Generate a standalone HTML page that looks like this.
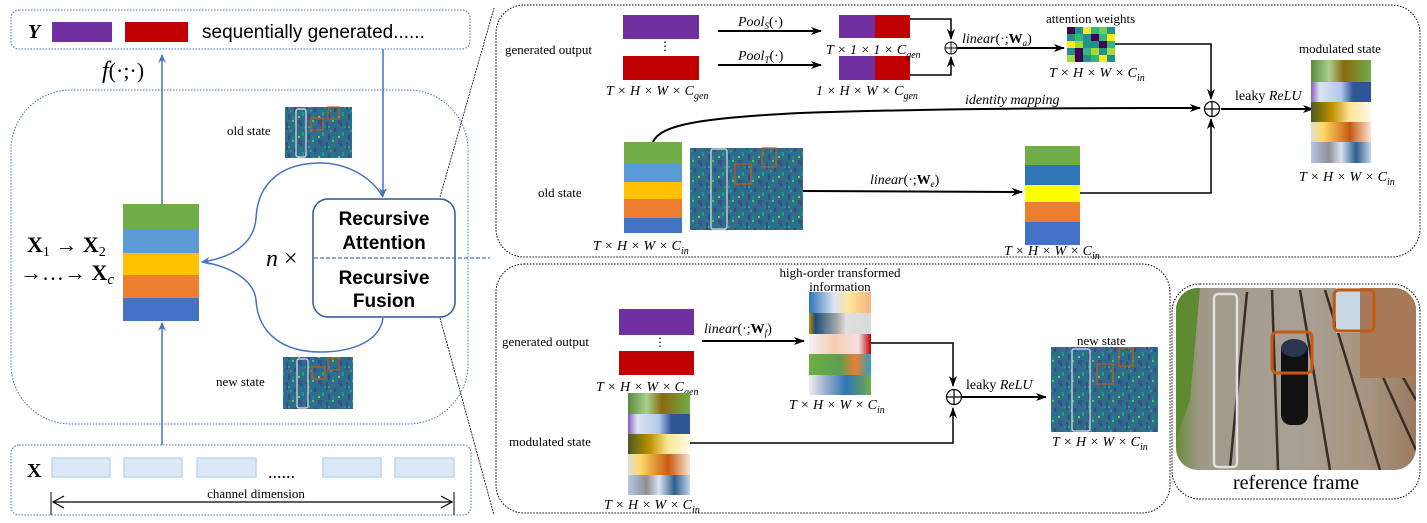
<!DOCTYPE html>
<html><head><meta charset="utf-8"><style>
html,body{margin:0;padding:0;background:#fff;}
svg{display:block;}
.s{font-family:"Liberation Serif",serif;}
.i{font-family:"Liberation Serif",serif;font-style:italic;}
</style></head><body>
<svg width="1427" height="523" viewBox="0 0 1427 523" xmlns="http://www.w3.org/2000/svg">
<defs>
<pattern id="hm" width="20" height="20" patternUnits="userSpaceOnUse">
<rect width="20" height="20" fill="#2d6f8a"/>
<rect x="0" y="0" width="2" height="6" fill="#3b4f8a"/><rect x="6" y="2" width="2" height="8" fill="#3e4a89"/>
<rect x="12" y="0" width="2" height="2" fill="#4fc06a"/><rect x="16" y="6" width="2" height="8" fill="#31688e"/>
<rect x="2" y="12" width="2" height="4" fill="#1f9e89"/><rect x="8" y="14" width="2" height="6" fill="#3e4a89"/>
<rect x="14" y="8" width="2" height="4" fill="#414487"/><rect x="18" y="16" width="2" height="2" fill="#7ad151"/>
<rect x="0" y="16" width="2" height="4" fill="#31688e"/><rect x="12" y="16" width="2" height="4" fill="#26828e"/>
<rect x="8" y="6" width="2" height="2" fill="#22a884"/><rect x="18" y="0" width="2" height="4" fill="#3e4a89"/>
<rect x="4" y="6" width="2" height="2" fill="#21918c"/><rect x="10" y="10" width="2" height="2" fill="#2a9a86"/>
</pattern>
<marker id="ab" markerWidth="10" markerHeight="10" refX="8" refY="5" orient="auto" markerUnits="userSpaceOnUse"><path d="M0,1 L9,5 L0,9 L3,5Z" fill="#4472c4"/></marker>
<marker id="ak" markerWidth="12" markerHeight="10" refX="10" refY="5" orient="auto" markerUnits="userSpaceOnUse"><path d="M0,1 L11,5 L0,9 L3,5Z" fill="#000"/></marker>
<linearGradient id="g1" x1="0" x2="1"><stop offset="0" stop-color="#5a8a3c"/><stop offset=".3" stop-color="#a9d08e"/><stop offset=".55" stop-color="#8a6a10"/><stop offset="1" stop-color="#70ad47"/></linearGradient>
<linearGradient id="g2" x1="0" x2="1"><stop offset="0" stop-color="#8e5ac0"/><stop offset=".15" stop-color="#dbe5f5"/><stop offset=".5" stop-color="#b4c7e7"/><stop offset=".7" stop-color="#2f5597"/><stop offset="1" stop-color="#2f5597"/></linearGradient>
<linearGradient id="g3" x1="0" x2="1"><stop offset="0" stop-color="#4c5a20"/><stop offset=".35" stop-color="#c09000"/><stop offset=".65" stop-color="#ffe699"/><stop offset="1" stop-color="#fff8e8"/></linearGradient>
<linearGradient id="g4" x1="0" x2="1"><stop offset="0" stop-color="#e0e0d0"/><stop offset=".2" stop-color="#ffd966"/><stop offset=".65" stop-color="#c55a11"/><stop offset="1" stop-color="#fbe5d6"/></linearGradient>
<linearGradient id="g5" x1="0" x2="1"><stop offset="0" stop-color="#b4c7e7"/><stop offset=".3" stop-color="#909090"/><stop offset=".5" stop-color="#dae3f3"/><stop offset=".75" stop-color="#2f5f8f"/><stop offset="1" stop-color="#c5d5ea"/></linearGradient>
<linearGradient id="h1" x1="0" x2="1"><stop offset="0" stop-color="#2e75b6"/><stop offset=".4" stop-color="#dae3f3"/><stop offset=".65" stop-color="#ffe699"/><stop offset="1" stop-color="#f4b183"/></linearGradient>
<linearGradient id="h2" x1="0" x2="1"><stop offset="0" stop-color="#bf9000"/><stop offset=".1" stop-color="#1f4e79"/><stop offset=".45" stop-color="#a6a6a6"/><stop offset=".6" stop-color="#e0e0e0"/><stop offset="1" stop-color="#d9d9d9"/></linearGradient>
<linearGradient id="h3" x1="0" x2="1"><stop offset="0" stop-color="#f2f2f2"/><stop offset=".4" stop-color="#f8cbad"/><stop offset=".8" stop-color="#f2e0e0"/><stop offset="1" stop-color="#c00000"/></linearGradient>
<linearGradient id="h4" x1="0" x2="1"><stop offset="0" stop-color="#70ad47"/><stop offset=".5" stop-color="#5aa050"/><stop offset=".75" stop-color="#ed7d31"/><stop offset="1" stop-color="#2aa0c0"/></linearGradient>
<linearGradient id="h5" x1="0" x2="1"><stop offset="0" stop-color="#f0f0f0"/><stop offset=".3" stop-color="#8fa8c8"/><stop offset=".6" stop-color="#2e75b6"/><stop offset="1" stop-color="#70ad47"/></linearGradient>
<linearGradient id="wood" x1="0" x2="1"><stop offset="0" stop-color="#6b8a3a"/><stop offset=".1" stop-color="#a09888"/><stop offset=".5" stop-color="#a8a096"/><stop offset=".8" stop-color="#a89480"/><stop offset="1" stop-color="#9a7a60"/></linearGradient>
<clipPath id="pc"><rect x="1176" y="288" width="240" height="182" rx="22"/></clipPath>
</defs>

<!-- LEFT -->
<rect x="11" y="10" width="459" height="39" rx="8" fill="none" stroke="#4472c4" stroke-width="1" stroke-dasharray="1.5,1.5"/>
<text x="28" y="38" class="i" font-weight="bold" font-size="20">Y</text>
<rect x="52" y="22" width="60" height="20" fill="#7030a0"/>
<rect x="125" y="22" width="63" height="20" fill="#c00000"/>
<text x="202" y="38" font-family="Liberation Sans,sans-serif" font-size="19">sequentially generated......</text>
<text x="102" y="78" class="i" font-size="24">f<tspan font-style="normal" font-size="22">(·;·)</tspan></text>

<rect x="11" y="90" width="457" height="334" rx="60" fill="none" stroke="#4472c4" stroke-width="1" stroke-dasharray="1.5,1.5"/>
<line x1="162" y1="204" x2="162" y2="55" stroke="#4472c4" stroke-width="1.5" marker-end="url(#ab)"/>
<line x1="383" y1="49" x2="383" y2="196" stroke="#4472c4" stroke-width="1.5" marker-end="url(#ab)"/>
<line x1="162" y1="445" x2="162" y2="323" stroke="#4472c4" stroke-width="1.5" marker-end="url(#ab)"/>
<rect x="123" y="204" width="76" height="25" fill="#70ad47"/>
<rect x="123" y="229" width="76" height="24" fill="#5b9bd5"/>
<rect x="123" y="253" width="76" height="22" fill="#ffc000"/>
<rect x="123" y="275" width="76" height="23" fill="#ed7d31"/>
<rect x="123" y="298" width="76" height="23" fill="#4472c4"/>
<text x="27" y="252" class="s" font-weight="bold" font-size="22">X<tspan font-size="14" dy="4" font-weight="normal">1</tspan><tspan dy="-4" font-weight="normal"> → </tspan>X<tspan font-size="14" dy="4" font-weight="normal">2</tspan></text>
<text x="20" y="280" class="s" font-size="22">→…→ <tspan font-weight="bold">X</tspan><tspan class="i" font-size="15" dy="4">c</tspan></text>
<path d="M383,197 C370,175 345,163 320,163 C285,163 258,180 256,218 C254,245 230,258 202,262" fill="none" stroke="#4472c4" stroke-width="1.5" marker-end="url(#ab)"/>
<path d="M383,318 C380,340 355,352 320,352 C285,352 258,335 256,300 C254,280 230,266 202,262" fill="none" stroke="#4472c4" stroke-width="1.5"/>
<text x="266" y="266" class="i" font-size="24">n <tspan font-style="normal">×</tspan></text>
<rect x="313" y="199" width="142" height="118" rx="15" fill="#fff" stroke="#2f5597" stroke-width="1.5"/>
<line x1="314" y1="258" x2="490" y2="258" stroke="#4472c4" stroke-width="1.2" stroke-dasharray="4,2"/>
<text x="384" y="225" text-anchor="middle" font-family="Liberation Sans,sans-serif" font-weight="bold" font-size="19">Recursive</text>
<text x="384" y="249" text-anchor="middle" font-family="Liberation Sans,sans-serif" font-weight="bold" font-size="19">Attention</text>
<text x="384" y="284" text-anchor="middle" font-family="Liberation Sans,sans-serif" font-weight="bold" font-size="19">Recursive</text>
<text x="384" y="307" text-anchor="middle" font-family="Liberation Sans,sans-serif" font-weight="bold" font-size="19">Fusion</text>
<text x="227" y="135" class="s" font-size="13">old state</text>
<rect x="285" y="107" width="67" height="51" fill="url(#hm)"/>
<rect x="296" y="109" width="10" height="48" fill="none" stroke="#ddd" stroke-width="1.2" rx="2"/>
<rect x="311" y="118" width="12" height="12" fill="none" stroke="#c55a11" stroke-width="1.2"/>
<rect x="328" y="107" width="11" height="12" fill="none" stroke="#c55a11" stroke-width="1.2"/>
<text x="216" y="386" class="s" font-size="13">new state</text>
<rect x="283" y="357" width="70" height="52" fill="url(#hm)"/>
<rect x="297" y="359" width="11" height="49" fill="none" stroke="#ddd" stroke-width="1.2" rx="2"/>
<rect x="312" y="367" width="13" height="12" fill="none" stroke="#c55a11" stroke-width="1.2"/>
<rect x="328" y="358" width="11" height="12" fill="none" stroke="#c55a11" stroke-width="1.2"/>

<rect x="11" y="445" width="460" height="70" rx="8" fill="none" stroke="#4472c4" stroke-width="1" stroke-dasharray="1.5,1.5"/>
<text x="27" y="477" class="s" font-weight="bold" font-size="20">X</text>
<g fill="#dae8f7" stroke="#bdd7ee" stroke-width="1.5">
<rect x="52" y="458" width="58" height="19"/><rect x="124" y="458" width="58" height="19"/><rect x="197" y="458" width="59" height="19"/><rect x="323" y="458" width="58" height="19"/><rect x="395" y="458" width="59" height="19"/></g>
<text x="268" y="478" class="s" font-size="18">......</text>
<text x="256" y="498" text-anchor="middle" class="s" font-size="13">channel dimension</text>
<line x1="54" y1="502" x2="452" y2="502" stroke="#000" stroke-width="1.2"/>
<path d="M64,496 L53,502 L64,508 M441,496 L452,502 L441,508" fill="none" stroke="#000" stroke-width="1.2"/>
<line x1="51" y1="492" x2="51" y2="515" stroke="#000"/><line x1="454" y1="492" x2="454" y2="515" stroke="#000"/>

<line x1="440" y1="197" x2="494" y2="8" stroke="#000" stroke-width="0.8" stroke-dasharray="2,1"/>
<line x1="440" y1="318" x2="494" y2="515" stroke="#000" stroke-width="0.8" stroke-dasharray="2,1"/>

<!-- TOP RIGHT -->
<rect x="496" y="5" width="924" height="252" rx="28" fill="none" stroke="#000" stroke-width="1" stroke-dasharray="1.5,1.5"/>
<text x="505" y="54" class="s" font-size="13">generated output</text>
<rect x="623" y="15" width="76" height="24" fill="#7030a0"/>
<text x="659" y="50" class="s" font-size="12">⋮</text>
<rect x="623" y="56" width="76" height="24" fill="#c00000"/>
<text x="606" y="95" class="i" font-size="14">T × H × W × C<tspan font-size="10" dy="4">gen</tspan></text>
<text x="738" y="26" class="i" font-size="14">Pool<tspan font-size="9" dy="3">S</tspan><tspan dy="-3" font-style="normal">(·)</tspan></text>
<line x1="718" y1="31" x2="821" y2="31" stroke="#000" stroke-width="2" marker-end="url(#ak)"/>
<text x="738" y="60" class="i" font-size="14">Pool<tspan font-size="9" dy="3">T</tspan><tspan dy="-3" font-style="normal">(·)</tspan></text>
<line x1="718" y1="65" x2="821" y2="65" stroke="#000" stroke-width="2" marker-end="url(#ak)"/>
<rect x="839" y="15" width="36" height="23" fill="#7030a0"/><rect x="875" y="15" width="35" height="23" fill="#c00000"/>
<rect x="839" y="56" width="36" height="24" fill="#7030a0"/><rect x="875" y="56" width="35" height="24" fill="#c00000"/>
<text x="826" y="54" class="i" font-size="14">T × 1 × 1 × C<tspan font-size="10" dy="4">gen</tspan></text>
<text x="816" y="95" class="i" font-size="14">1 × H × W × C<tspan font-size="10" dy="4">gen</tspan></text>
<path d="M910,19 H951 V39" fill="none" stroke="#000" stroke-width="1.5" marker-end="url(#ak)"/>
<path d="M910,75 H951 V57" fill="none" stroke="#000" stroke-width="1.5" marker-end="url(#ak)"/>
<circle cx="951" cy="48" r="6" fill="#fff" stroke="#000" stroke-width="1"/><path d="M945,48 H957 M951,42 V54" stroke="#000"/>
<text x="962" y="43" class="i" font-size="14">linear<tspan font-style="normal">(·;</tspan><tspan font-style="normal" font-weight="bold">W</tspan><tspan font-size="9" dy="3">a</tspan><tspan dy="-3" font-style="normal">)</tspan></text>
<line x1="957" y1="48" x2="1064" y2="48" stroke="#000" stroke-width="2" marker-end="url(#ak)"/>
<text x="1046" y="23" class="s" font-size="13">attention weights</text>
<g>
<rect x="1067" y="27" width="48" height="35" fill="#21918c"/>
<rect x="1067" y="27" width="8" height="7" fill="#440154"/><rect x="1083" y="27" width="8" height="7" fill="#fde725"/><rect x="1091" y="27" width="8" height="7" fill="#35b779"/><rect x="1099" y="27" width="8" height="7" fill="#6ece58"/>
<rect x="1091" y="34" width="8" height="7" fill="#440154"/><rect x="1099" y="34" width="8" height="7" fill="#35b779"/><rect x="1107" y="34" width="8" height="7" fill="#fde725"/><rect x="1075" y="34" width="8" height="7" fill="#35b779"/>
<rect x="1067" y="41" width="8" height="7" fill="#fde725"/><rect x="1075" y="41" width="8" height="7" fill="#a0da39"/><rect x="1099" y="41" width="8" height="7" fill="#440154"/><rect x="1107" y="41" width="8" height="7" fill="#35b779"/>
<rect x="1075" y="48" width="8" height="7" fill="#440154"/><rect x="1083" y="48" width="8" height="7" fill="#35b779"/><rect x="1091" y="48" width="8" height="7" fill="#a0da39"/><rect x="1107" y="48" width="8" height="7" fill="#a0da39"/>
<rect x="1067" y="55" width="8" height="7" fill="#a0da39"/><rect x="1075" y="55" width="8" height="7" fill="#440154"/><rect x="1091" y="55" width="8" height="7" fill="#35b779"/><rect x="1099" y="55" width="8" height="7" fill="#fde725"/>
</g>
<text x="1049" y="77" class="i" font-size="14">T × H × W × C<tspan font-size="10" dy="4">in</tspan></text>
<path d="M1115,44 H1211 V99" fill="none" stroke="#000" stroke-width="1.5" marker-end="url(#ak)"/>
<circle cx="1212" cy="109" r="7.5" fill="#fff" stroke="#000" stroke-width="1.2"/><path d="M1204.5,109 H1219.5 M1212,101.5 V116.5" stroke="#000" stroke-width="1.2"/>
<text x="1235" y="100" class="s" font-size="14">leaky <tspan font-style="italic">ReLU</tspan></text>
<line x1="1221" y1="109" x2="1313" y2="109" stroke="#000" stroke-width="2" marker-end="url(#ak)"/>
<text x="1299" y="53" class="s" font-size="13">modulated state</text>
<rect x="1311" y="60" width="60" height="22" fill="url(#g1)"/><rect x="1311" y="82" width="60" height="20" fill="url(#g2)"/><rect x="1311" y="102" width="60" height="20" fill="url(#g3)"/><rect x="1311" y="122" width="60" height="20" fill="url(#g4)"/><rect x="1311" y="142" width="60" height="21" fill="url(#g5)"/>
<text x="1299" y="181" class="i" font-size="14">T × H × W × C<tspan font-size="10" dy="4">in</tspan></text>
<text x="965" y="104" class="i" font-size="14">identity mapping</text>
<path d="M653,142 C660,125 700,118 800,113 C950,108 1100,108 1200,108" fill="none" stroke="#000" stroke-width="2" marker-end="url(#ak)"/>
<text x="538" y="197" class="s" font-size="13">old state</text>
<rect x="624" y="142" width="58" height="21" fill="#70ad47"/><rect x="624" y="163" width="58" height="19" fill="#5b9bd5"/><rect x="624" y="182" width="58" height="17" fill="#ffc000"/><rect x="624" y="199" width="58" height="19" fill="#ed7d31"/><rect x="624" y="218" width="58" height="15" fill="#4472c4"/>
<rect x="690" y="148" width="113" height="82" fill="url(#hm)"/>
<rect x="711" y="149" width="16" height="80" fill="none" stroke="#ddd" stroke-width="1.2" rx="2"/>
<rect x="735" y="164" width="16" height="20" fill="none" stroke="#c55a11" stroke-width="1.2"/>
<rect x="762" y="148" width="14" height="19" fill="none" stroke="#c55a11" stroke-width="1.2"/>
<text x="593" y="250" class="i" font-size="14">T × H × W × C<tspan font-size="10" dy="4">in</tspan></text>
<text x="870" y="184" class="i" font-size="14">linear<tspan font-style="normal">(·;</tspan><tspan font-style="normal" font-weight="bold">W</tspan><tspan font-size="9" dy="3">e</tspan><tspan dy="-3" font-style="normal">)</tspan></text>
<line x1="803" y1="191" x2="1022" y2="192" stroke="#000" stroke-width="2" marker-end="url(#ak)"/>
<rect x="1025" y="146" width="55" height="19" fill="#70ad47"/><rect x="1025" y="165" width="55" height="20" fill="#2e75b6"/><rect x="1025" y="185" width="55" height="17" fill="#ffff00"/><rect x="1025" y="202" width="55" height="20" fill="#ed7d31"/><rect x="1025" y="222" width="55" height="23" fill="#4472c4"/>
<text x="1004" y="255" class="i" font-size="14">T × H × W × C<tspan font-size="10" dy="4">in</tspan></text>
<path d="M1080,193 H1211 V119" fill="none" stroke="#000" stroke-width="1.5" marker-end="url(#ak)"/>

<!-- BOTTOM RIGHT -->
<rect x="496" y="264" width="674" height="249" rx="28" fill="none" stroke="#000" stroke-width="1" stroke-dasharray="1.5,1.5"/>
<text x="840" y="277" text-anchor="middle" class="s" font-size="13">high-order transformed</text>
<text x="840" y="291" text-anchor="middle" class="s" font-size="13">information</text>
<text x="502" y="346" class="s" font-size="13">generated output</text>
<rect x="619" y="309" width="75" height="26" fill="#7030a0"/>
<text x="654" y="346" class="s" font-size="12">⋮</text>
<rect x="619" y="351" width="75" height="24" fill="#c00000"/>
<text x="596" y="391" class="i" font-size="14">T × H × W × C<tspan font-size="10" dy="4">gen</tspan></text>
<text x="704" y="333" class="i" font-size="14">linear<tspan font-style="normal">(·;</tspan><tspan font-style="normal" font-weight="bold">W</tspan><tspan font-size="9" dy="3">f</tspan><tspan dy="-3" font-style="normal">)</tspan></text>
<line x1="702" y1="341" x2="804" y2="341" stroke="#000" stroke-width="2" marker-end="url(#ak)"/>
<rect x="809" y="292" width="62" height="21" fill="url(#h1)"/><rect x="809" y="313" width="62" height="21" fill="url(#h2)"/><rect x="809" y="334" width="62" height="20" fill="url(#h3)"/><rect x="809" y="354" width="62" height="21" fill="url(#h4)"/><rect x="809" y="375" width="62" height="20" fill="url(#h5)"/>
<text x="789" y="409" class="i" font-size="14">T × H × W × C<tspan font-size="10" dy="4">in</tspan></text>
<path d="M871,343 H953 V386" fill="none" stroke="#000" stroke-width="1.5" marker-end="url(#ak)"/>
<circle cx="954" cy="397" r="7.5" fill="#fff" stroke="#000" stroke-width="1.2"/><path d="M946.5,397 H961.5 M954,389.5 V404.5" stroke="#000" stroke-width="1.2"/>
<text x="966" y="389" class="s" font-size="14">leaky <tspan font-style="italic">ReLU</tspan></text>
<line x1="962" y1="397" x2="1046" y2="397" stroke="#000" stroke-width="2" marker-end="url(#ak)"/>
<text x="1077" y="345" class="s" font-size="13">new state</text>
<rect x="1051" y="347" width="107" height="85" fill="url(#hm)"/>
<rect x="1072" y="349" width="18" height="82" fill="none" stroke="#ddd" stroke-width="1.2" rx="2"/>
<rect x="1097" y="364" width="16" height="20" fill="none" stroke="#c55a11" stroke-width="1.2"/>
<rect x="1119" y="348" width="14" height="18" fill="none" stroke="#c55a11" stroke-width="1.2"/>
<text x="1052" y="446" class="i" font-size="14">T × H × W × C<tspan font-size="10" dy="4">in</tspan></text>
<text x="509" y="446" class="s" font-size="13">modulated state</text>
<rect x="628" y="393" width="62" height="21" fill="url(#g1)"/><rect x="628" y="414" width="62" height="20" fill="url(#g2)"/><rect x="628" y="434" width="62" height="20" fill="url(#g3)"/><rect x="628" y="454" width="62" height="21" fill="url(#g4)"/><rect x="628" y="475" width="62" height="20" fill="url(#g5)"/>
<text x="604" y="509" class="i" font-size="14">T × H × W × C<tspan font-size="10" dy="4">in</tspan></text>
<path d="M690,443 H953 V408" fill="none" stroke="#000" stroke-width="1.5" marker-end="url(#ak)"/>

<!-- REFERENCE FRAME -->
<rect x="1172" y="284" width="248" height="215" rx="28" fill="none" stroke="#000" stroke-width="1" stroke-dasharray="1.5,1.5"/>
<g clip-path="url(#pc)">
<rect x="1176" y="288" width="240" height="182" fill="url(#wood)"/>
<polygon points="1176,288 1200,288 1190,400 1176,440" fill="#5f8a34"/>
<g stroke="#3a2e24" stroke-width="2.5" fill="none">
<line x1="1247" y1="292" x2="1230" y2="468"/><line x1="1272" y1="290" x2="1278" y2="470"/><line x1="1300" y1="290" x2="1330" y2="470"/>
<line x1="1325" y1="290" x2="1380" y2="470"/><line x1="1348" y1="300" x2="1416" y2="450"/><line x1="1370" y1="320" x2="1416" y2="400"/></g>
<rect x="1336" y="288" width="50" height="45" fill="#c8d8e4"/>
<rect x="1360" y="288" width="56" height="90" fill="#a97a5a"/>
<rect x="1281" y="340" width="27" height="85" rx="10" fill="#111"/>
<ellipse cx="1294" cy="348" rx="13" ry="9" fill="#2a3550"/>
</g>
<rect x="1214" y="294" width="23" height="173" rx="4" fill="none" stroke="#e0e0e0" stroke-width="2.5"/>
<rect x="1272" y="332" width="40" height="41" rx="5" fill="none" stroke="#c55a11" stroke-width="3"/>
<rect x="1334" y="290" width="40" height="41" rx="5" fill="none" stroke="#c55a11" stroke-width="3"/>
<text x="1296" y="489" text-anchor="middle" class="s" font-size="20">reference frame</text>
</svg>
</body></html>
